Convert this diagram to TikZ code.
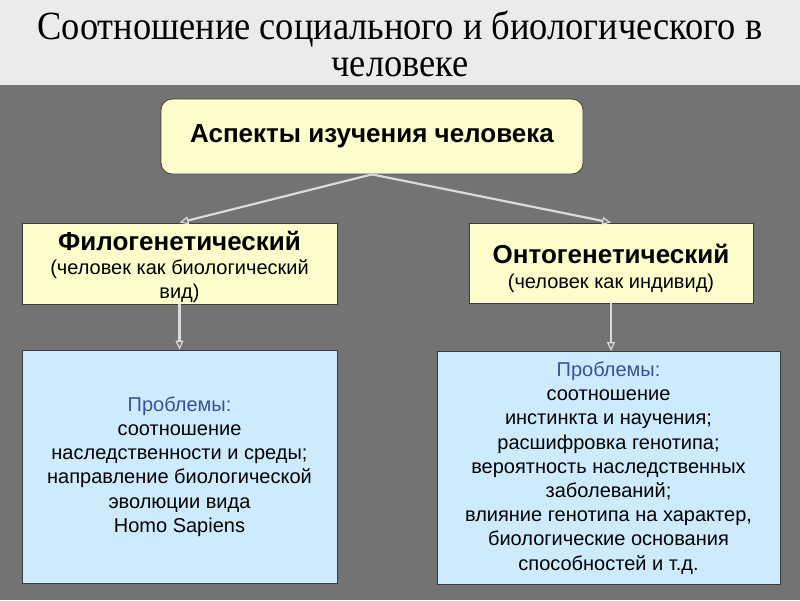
\documentclass[tikz,border=0pt]{standalone}
\usepackage{fontspec}
\setmainfont{Liberation Sans}
\newfontfamily\titlefont[FakeStretch=0.91]{Liberation Serif}
\usetikzlibrary{arrows.meta}
\definecolor{titlebg}{HTML}{EBEBEB}
\definecolor{bodybg}{HTML}{737373}
\definecolor{yel}{HTML}{FEFECC}
\definecolor{blu}{HTML}{CDEBFD}
\definecolor{edgec}{HTML}{3C3C3C}
\definecolor{arr}{HTML}{DADADA}
\definecolor{probl}{HTML}{3B519B}
\tikzset{
  ybox/.style={draw=edgec, fill=yel, line width=0.8pt, inner sep=0pt},
  bbox/.style={draw=edgec, fill=blu, line width=0.8pt, align=center, inner sep=0pt,
    font=\fontsize{20}{24.2}\selectfont},
  headtxt/.style={anchor=base, inner sep=0pt, font=\fontsize{26}{30}\selectfont\bfseries},
  subtxt/.style={anchor=base, inner sep=0pt, font=\fontsize{20}{24}\selectfont},
  conn/.style={draw=arr, line width=2.2pt,
    -{Triangle[open, length=9pt, width=8pt, line width=1.2pt]}},
  ttl/.style={font=\titlefont\fontsize{40}{37}\selectfont, inner sep=0pt, align=center}
}
\begin{document}
\begin{tikzpicture}[x=1pt,y=-1pt]
\useasboundingbox (0,0) rectangle (800,600);
\fill[titlebg] (0,0) rectangle (800,85);
\fill[bodybg] (0,85) rectangle (800,600);

\node[ttl, anchor=base] (title) at (400,76) {Соотношение социального и биологического в\\ человеке};

\node[ybox, rounded corners=11pt, minimum width=422pt, minimum height=75pt,
  font=\fontsize{26}{30}\selectfont\bfseries] (top) at (372,136.5) {Аспекты изучения человека};

\node[ybox, minimum width=315pt, minimum height=81pt] (phil) at (179.5,263.5) {};
\node[headtxt] (philA) at (179.5,250) {Филогенетический};
\node[subtxt] (philB) at (179.5,274) {(человек как биологический};
\node[subtxt] (philC) at (179.5,298) {вид)};

\node[ybox, minimum width=284pt, minimum height=80pt] (onto) at (611,263) {};
\node[headtxt] (ontoA) at (611,263) {Онтогенетический};
\node[subtxt] (ontoB) at (611,288) {(человек как индивид)};

\node[bbox, minimum width=315pt, minimum height=233pt] (pl) at (179.5,466.5)
  {\textcolor{probl}{Проблемы:}\\ соотношение\\ наследственности и среды;\\
   направление биологической\\ эволюции вида\\ Homo Sapiens};

\node[bbox, minimum width=343pt, minimum height=233pt] (pr) at (608.5,468)
  {\textcolor{probl}{Проблемы:}\\ соотношение\\ инстинкта и научения;\\ расшифровка генотипа;\\
   вероятность наследственных\\ заболеваний;\\ влияние генотипа на характер,\\
   биологические основания\\ способностей и т.д.};

\draw[conn] (top.south) -- (phil.north);
\draw[conn] (top.south) -- (onto.north);
\draw[conn] (phil.south) -- (phil.south |- pl.north);
\draw[conn] (onto.south) -- (onto.south |- pr.north);
\end{tikzpicture}
\end{document}
